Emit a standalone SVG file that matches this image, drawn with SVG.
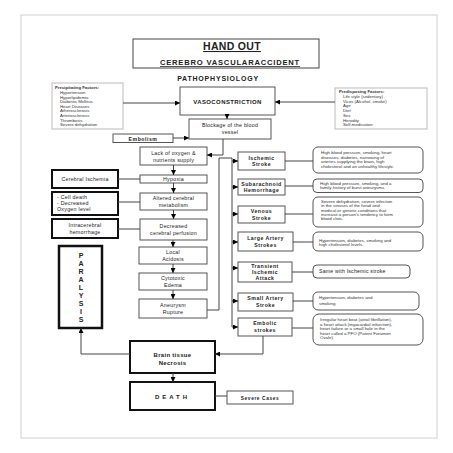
<svg xmlns="http://www.w3.org/2000/svg" width="453" height="453" viewBox="0 0 453 453">
<defs>
<marker id="ah" viewBox="0 0 10 10" refX="10" refY="5" markerWidth="5" markerHeight="5" markerUnits="userSpaceOnUse" orient="auto"><path d="M0,0 L10,5 L0,10 z" fill="#000"/></marker>
<style>
text{font-family:"Liberation Sans",Arial,sans-serif;fill:#222}
.b{fill:#fff;stroke:#555;stroke-width:1}
.k{fill:#fff;stroke:#111;stroke-width:2}
.r{fill:#fff;stroke:#555;stroke-width:1}
.m{font-size:5.3px;text-anchor:middle;letter-spacing:0.25px}
.ml{font-size:5.3px;text-anchor:start;letter-spacing:0.25px}
.s{font-size:5.2px;font-weight:bold;text-anchor:middle;letter-spacing:0.5px}
.d{font-size:4.4px;fill:#333}
.f{font-size:4.3px;fill:#333}
.c{stroke:#444;stroke-width:1;fill:none}
.a{stroke:#444;stroke-width:1;fill:none;marker-end:url(#ah)}
</style>
</defs>
<rect x="0" y="0" width="453" height="453" fill="#fff"/>
<rect x="21" y="15" width="416" height="423" fill="none" stroke="#d0d0d0" stroke-width="1"/>

<g id="title">
<rect x="133" y="39" width="186" height="29" fill="#fff" stroke="#444" stroke-width="1"/>
<text x="232" y="50" font-size="10.5" font-weight="bold" text-anchor="middle" text-decoration="underline" letter-spacing="0.3">HAND OUT</text>
<text x="230" y="65" font-size="7.6" font-weight="bold" text-anchor="middle" text-decoration="underline" letter-spacing="0.8">CEREBRO  VASCULARACCIDENT</text>
<text x="218" y="80.5" font-size="7" font-weight="bold" text-anchor="middle" letter-spacing="0.8">PATHOPHYSIOLOGY</text>
</g>

<g id="precipitating">
<rect x="52" y="83" width="71" height="46" fill="#fff" stroke="#bbb" stroke-width="1"/>
<text class="f" font-weight="bold" x="55" y="89">Precipitating Factors:</text>
<text class="f" x="60" y="94">Hypertension</text>
<text class="f" x="60" y="98.6">Hyperlipidemia</text>
<text class="f" x="60" y="103.2">Diabetes Mellitus</text>
<text class="f" x="60" y="107.8">Heart Diseases</text>
<text class="f" x="60" y="112.4">Atherosclerosis</text>
<text class="f" x="60" y="117">Arteriosclerosis</text>
<text class="f" x="60" y="121.6">Thrombosis</text>
<text class="f" x="60" y="126.2">Severe dehydration</text>
</g>

<g id="predisposing">
<rect x="335" y="88" width="92" height="41" fill="#fff" stroke="#bbb" stroke-width="1"/>
<text class="f" font-weight="bold" x="339" y="93">Predisposing Factors:</text>
<text class="f" x="343" y="98">Life style (sedentary)</text>
<text class="f" x="343" y="102.7">Vices (Alcohol, smoke)</text>
<text class="f" x="343" y="107.4">Age</text>
<text class="f" x="343" y="112.1">Diet</text>
<text class="f" x="343" y="116.8">Sex</text>
<text class="f" x="343" y="121.5">Heredity</text>
<text class="f" x="343" y="126.2">Self-medication</text>
</g>

<g id="vasoconstriction">
<rect class="b" x="180" y="87" width="95" height="28"/>
<text x="227.5" y="104" font-size="6" font-weight="bold" text-anchor="middle" letter-spacing="0.4">VASOCONSTRICTION</text>
</g>

<g id="blockage">
<rect class="b" x="189" y="119" width="82" height="20"/>
<text class="m" x="230" y="127">Blockage of the blood</text>
<text class="m" x="230" y="134">vessel</text>
</g>

<g id="embolism">
<rect class="b" x="113" y="134" width="60" height="8.5"/>
<text class="s" x="143" y="140.5">Embolism</text>
</g>

<g id="lack">
<rect class="b" x="140" y="147" width="67" height="18"/>
<text class="m" x="173.5" y="154.5">Lack of oxygen &amp;</text>
<text class="m" x="173.5" y="161.5">nutrients supply</text>
</g>
<g id="hypoxia">
<rect class="b" x="140" y="175" width="67" height="8"/>
<text class="m" x="173.5" y="181">Hypoxia</text>
</g>
<g id="altered">
<rect class="b" x="140" y="193" width="67" height="17"/>
<text class="m" x="173.5" y="200">Altered cerebral</text>
<text class="m" x="173.5" y="206.5">metabolism</text>
</g>
<g id="decreased">
<rect class="b" x="140" y="219" width="67" height="21"/>
<text class="m" x="173.5" y="228">Decreased</text>
<text class="m" x="173.5" y="234.5">cerebral perfusion</text>
</g>
<g id="acidosis">
<rect class="b" x="139" y="247" width="68" height="17"/>
<text class="m" x="173" y="254">Local</text>
<text class="m" x="173" y="260.5">Acidosis</text>
</g>
<g id="edema">
<rect class="b" x="139" y="273" width="68" height="17"/>
<text class="m" x="173" y="280">Cytotoxic</text>
<text class="m" x="173" y="286.5">Edema</text>
</g>
<g id="aneurysm">
<rect class="b" x="139" y="299" width="68" height="19"/>
<text class="m" x="173" y="307">Aneurysm</text>
<text class="m" x="173" y="313.5">Rupture</text>
</g>

<g id="ischemia">
<rect class="k" x="52" y="170" width="66" height="18"/>
<text class="m" x="85" y="181">Cerebral Ischemia</text>
</g>
<g id="celldeath">
<rect class="k" x="52" y="192" width="66" height="23"/>
<text class="ml" x="57" y="199">- Cell death</text>
<text class="ml" x="57" y="205">- Decreased</text>
<text class="ml" x="57" y="211">Oxygen level</text>
</g>
<g id="intracerebral">
<rect class="k" x="52" y="219" width="66" height="19"/>
<text class="m" x="85" y="227">Intracerebral</text>
<text class="m" x="85" y="233.5">hemorrhage</text>
</g>
<g id="paralysis">
<rect x="59" y="246" width="43" height="82" fill="#fff" stroke="#111" stroke-width="2.5"/>
<g font-size="7" font-weight="bold" text-anchor="middle">
<text x="81" y="257.5">P</text><text x="81" y="265.6">A</text><text x="81" y="273.7">R</text><text x="81" y="281.8">A</text><text x="81" y="289.9">L</text><text x="81" y="298">Y</text><text x="81" y="306.1">S</text><text x="81" y="314.2">I</text><text x="81" y="322.3">S</text>
</g>
</g>

<g id="necrosis">
<rect class="k" x="130" y="341" width="85" height="32"/>
<text x="172.5" y="357" font-size="6" font-weight="bold" text-anchor="middle" letter-spacing="0.3">Brain tissue</text>
<text x="172.5" y="364.5" font-size="6" font-weight="bold" text-anchor="middle" letter-spacing="0.3">Necrosis</text>
</g>
<g id="death">
<rect class="k" x="130" y="382" width="85" height="28"/>
<text x="172.5" y="399" font-size="6" font-weight="bold" text-anchor="middle" letter-spacing="3">DEATH</text>
</g>
<g id="severe">
<rect class="b" x="227" y="391" width="66" height="13"/>
<text x="260" y="399.5" font-size="4.8" font-weight="bold" text-anchor="middle" letter-spacing="0.6">Severe Cases</text>
</g>

<g id="ischemic">
<rect class="b" x="238" y="152" width="47" height="18"/>
<text class="s" x="261.5" y="159.5">Ischemic</text>
<text class="s" x="261.5" y="166">Stroke</text>
</g>
<g id="ischemic-desc">
<rect class="r" x="313" y="147" width="110" height="26" rx="5"/>
<text class="d" x="321" y="154">High blood pressure, smoking, heart</text>
<text class="d" x="321" y="158.5">diseases, diabetes, narrowing of</text>
<text class="d" x="321" y="163">arteries supplying the brain, high</text>
<text class="d" x="321" y="167.5">cholesterol and an unhealthy lifestyle.</text>
</g>
<g id="subarachnoid">
<rect class="b" x="238" y="179" width="47" height="16"/>
<text class="s" x="261.5" y="185.5">Subarachnoid</text>
<text class="s" x="261.5" y="192">Hemorrhage</text>
</g>
<g id="subarachnoid-desc">
<rect class="r" x="313" y="179" width="110" height="13.5" rx="4"/>
<text class="d" x="320" y="184.5">High blood pressure, smoking, and a</text>
<text class="d" x="320" y="189">family history of burst aneurysms.</text>
</g>
<g id="venous">
<rect class="b" x="238" y="206" width="47" height="17"/>
<text class="s" x="261.5" y="213">Venous</text>
<text class="s" x="261.5" y="219.5">Stroke</text>
</g>
<g id="venous-desc">
<rect class="r" x="313" y="197" width="110" height="30" rx="5"/>
<text class="d" x="321" y="203.3">Severe dehydration, severe infection</text>
<text class="d" x="321" y="207.4">in the sinuses of the head and</text>
<text class="d" x="321" y="211.5">medical or genetic conditions that</text>
<text class="d" x="321" y="215.6">increase a person's tendency to form</text>
<text class="d" x="321" y="219.7">blood clots.</text>
</g>
<g id="large">
<rect class="b" x="238" y="232" width="55" height="19"/>
<text class="s" x="265.5" y="240">Large Artery</text>
<text class="s" x="265.5" y="246.5">Strokes</text>
</g>
<g id="large-desc">
<rect class="r" x="313" y="232" width="110" height="19" rx="5"/>
<text class="d" x="319" y="241.5">Hypertension, diabetes, smoking and</text>
<text class="d" x="319" y="246">high cholesterol levels.</text>
</g>
<g id="transient">
<rect class="b" x="238" y="262" width="54" height="20"/>
<text class="s" x="265" y="268">Transient</text>
<text class="s" x="265" y="274">Ischemic</text>
<text class="s" x="265" y="280">Attack</text>
</g>
<g id="transient-desc">
<rect class="r" x="313" y="265" width="97" height="13" rx="4"/>
<text x="319" y="273.3" font-size="5.2" fill="#333" letter-spacing="0.2">Same with Ischemic stroke</text>
</g>
<g id="small">
<rect class="b" x="238" y="293" width="55" height="18"/>
<text class="s" x="265.5" y="300">Small Artery</text>
<text class="s" x="265.5" y="306.5">Stroke</text>
</g>
<g id="small-desc">
<rect class="r" x="313" y="292" width="106" height="18" rx="5"/>
<text class="d" x="319" y="298.5" font-size="4.8">Hypertension, diabetes and</text>
<text class="d" x="319" y="304.8" font-size="4.8">smoking.</text>
</g>
<g id="embolic">
<rect class="b" x="238" y="318" width="54" height="18"/>
<text class="s" x="265" y="325">Embolic</text>
<text class="s" x="265" y="331.5">strokes</text>
</g>
<g id="embolic-desc">
<rect class="r" x="313" y="314" width="110" height="31" rx="6"/>
<text class="d" x="320" y="321.3">Irregular heart beat (atrial fibrillation),</text>
<text class="d" x="320" y="325.7">a heart attack (myocardial infarction),</text>
<text class="d" x="320" y="330.1">heart failure or a small hole in the</text>
<text class="d" x="320" y="334.5">heart called a PFO (Patent Foramen</text>
<text class="d" x="320" y="338.9">Ovale).</text>
</g>

<g id="connectors">
<line class="a" x1="123" y1="103" x2="180" y2="103"/>
<line class="a" x1="335" y1="102" x2="275" y2="102"/>
<line class="a" x1="227" y1="115" x2="227" y2="119"/>
<line class="a" x1="173" y1="138" x2="189" y2="138"/>
<polyline class="a" points="223,139 223,155 207,155"/>
<line class="a" x1="173.5" y1="165" x2="173.5" y2="175"/>
<line class="a" x1="173.5" y1="183" x2="173.5" y2="193"/>
<line class="a" x1="173.5" y1="210" x2="173.5" y2="219"/>
<line class="a" x1="173" y1="240" x2="173" y2="247"/>
<line class="a" x1="173" y1="264" x2="173" y2="273"/>
<line class="a" x1="173" y1="290" x2="173" y2="299"/>
<line class="c" x1="118" y1="179" x2="140" y2="179"/>
<line class="c" x1="118" y1="202" x2="140" y2="202"/>
<line class="c" x1="118" y1="229" x2="140" y2="229"/>
<polyline class="c" points="207,310 219,310 219,158 232,158 232,327"/>
<line class="a" x1="232" y1="161" x2="238" y2="161"/>
<line class="a" x1="232" y1="187" x2="238" y2="187"/>
<line class="a" x1="232" y1="214" x2="238" y2="214"/>
<line class="a" x1="232" y1="242" x2="238" y2="242"/>
<line class="a" x1="232" y1="268" x2="238" y2="268"/>
<line class="a" x1="232" y1="301" x2="238" y2="301"/>
<line class="a" x1="232" y1="327" x2="238" y2="327"/>
<line class="c" x1="285" y1="161" x2="313" y2="161"/>
<line class="c" x1="285" y1="186" x2="313" y2="186"/>
<line class="c" x1="285" y1="214" x2="313" y2="214"/>
<line class="c" x1="293" y1="242" x2="313" y2="242"/>
<line class="c" x1="292" y1="272" x2="313" y2="272"/>
<line class="c" x1="293" y1="301" x2="313" y2="301"/>
<line class="c" x1="292" y1="328" x2="313" y2="328"/>
<polyline class="a" points="263,336 263,354 215,354"/>
<polyline class="a" points="130,354 81,354 81,328"/>
<line class="a" x1="173" y1="373" x2="173" y2="382"/>
<line class="c" x1="215" y1="396" x2="227" y2="396"/>
</g>
</svg>
